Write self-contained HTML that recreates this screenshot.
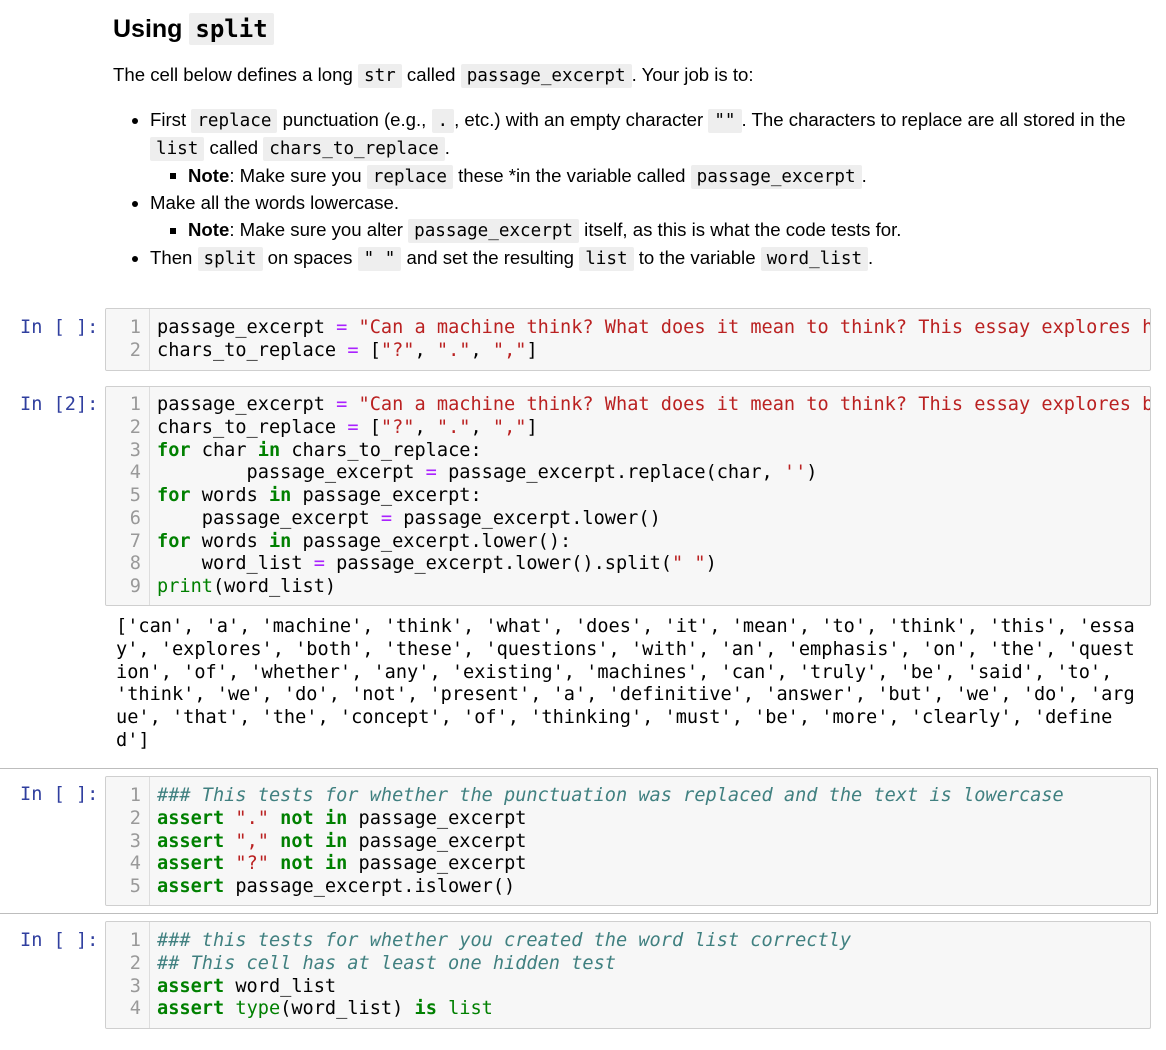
<!DOCTYPE html>
<html><head><meta charset="utf-8"><style>
body{margin:0;width:1166px;height:1050px;background:#fff;position:relative;overflow:hidden;font-family:"Liberation Sans",Arial,sans-serif;color:#000}
.t{position:absolute;font-size:18.6px;white-space:nowrap;line-height:24px}
code{font-family:"DejaVu Sans Mono",monospace;font-size:17.6px;background:#eee;padding:2px 6px;border-radius:2px}
.h{position:absolute;left:113px;top:12px;font-size:25px;font-weight:bold;line-height:34px}
.h code{font-size:24px;font-weight:bold;padding:2px 6px}
.dot{position:absolute;width:6px;height:6px;border-radius:50%;background:#000}
.sq{position:absolute;width:6px;height:6px;background:#000}
.p{position:absolute;left:20px;font-family:"DejaVu Sans Mono",monospace;font-size:18.6px;color:#303f9f;line-height:22.75px}
.box{position:absolute;left:105px;width:1044px;background:#f7f7f7;border:1px solid #cfcfcf;border-radius:2px;overflow:hidden}
.gut{position:absolute;left:0;top:0;bottom:0;width:43px;border-right:1px solid #ddd;background:#f7f7f7}
.ln{position:absolute;left:0;width:35px;text-align:right;font-family:"DejaVu Sans Mono",monospace;font-size:18.6px;color:#999;line-height:22.75px}
.cd{position:absolute;left:51px;font-family:"DejaVu Sans Mono",monospace;font-size:18.6px;line-height:22.75px;white-space:pre;color:#000}
.k{color:#008000;font-weight:bold}.s{color:#ba2121}.o{color:#aa22ff}.c{color:#408080;font-style:italic}.b{color:#008000}
.out{position:absolute;left:116px;top:616px;font-family:"DejaVu Sans Mono",monospace;font-size:18.6px;line-height:22.75px;white-space:pre}
</style></head><body>
<div class="h">Using <code>split</code></div>
<div class="t" style="left:113px;top:63px">The cell below defines a long <code>str</code> called <code>passage_excerpt</code>. Your job is to:</div>
<div class="dot" style="left:132px;top:118px"></div>
<div class="t" style="left:150px;top:108px">First <code>replace</code> punctuation (e.g., <code>.</code>, etc.) with an empty character <code>""</code>. The characters to replace are all stored in the</div>
<div class="t" style="left:150px;top:136px"><code>list</code> called <code>chars_to_replace</code>.</div>
<div class="sq" style="left:170px;top:173px"></div>
<div class="t" style="left:188px;top:164px"><b>Note</b>: Make sure you <code>replace</code> these *in the variable called <code>passage_excerpt</code>.</div>
<div class="dot" style="left:132px;top:201px"></div>
<div class="t" style="left:150px;top:191px">Make all the words lowercase.</div>
<div class="sq" style="left:170px;top:228px"></div>
<div class="t" style="left:188px;top:218px"><b>Note</b>: Make sure you alter <code>passage_excerpt</code> itself, as this is what the code tests for.</div>
<div class="dot" style="left:132px;top:256px"></div>
<div class="t" style="left:150px;top:246px">Then <code>split</code> on spaces <code>" "</code> and set the resulting <code>list</code> to the variable <code>word_list</code>.</div>

<div class="p" style="top:317px">In [ ]:</div>
<div class="box" style="top:308px;height:61px"><div class="gut"></div>
<div class="ln" style="top:8px">1<br>2</div>
<div class="cd" style="top:8px">passage_excerpt <span class="o">=</span> <span class="s">"Can a machine think? What does it mean to think? This essay explores how</span>
chars_to_replace <span class="o">=</span> [<span class="s">"?"</span>, <span class="s">"."</span>, <span class="s">","</span>]</div></div>

<div class="p" style="top:394px">In [2]:</div>
<div class="box" style="top:386px;height:218px"><div class="gut"></div>
<div class="ln" style="top:7px">1<br>2<br>3<br>4<br>5<br>6<br>7<br>8<br>9</div>
<div class="cd" style="top:7px">passage_excerpt <span class="o">=</span> <span class="s">"Can a machine think? What does it mean to think? This essay explores both</span>
chars_to_replace <span class="o">=</span> [<span class="s">"?"</span>, <span class="s">"."</span>, <span class="s">","</span>]
<span class="k">for</span> char <span class="k">in</span> chars_to_replace:
        passage_excerpt <span class="o">=</span> passage_excerpt.replace(char, <span class="s">''</span>)
<span class="k">for</span> words <span class="k">in</span> passage_excerpt:
    passage_excerpt <span class="o">=</span> passage_excerpt.lower()
<span class="k">for</span> words <span class="k">in</span> passage_excerpt.lower():
    word_list <span class="o">=</span> passage_excerpt.lower().split(<span class="s">" "</span>)
<span class="b">print</span>(word_list)</div></div>

<div class="out">['can', 'a', 'machine', 'think', 'what', 'does', 'it', 'mean', 'to', 'think', 'this', 'essa
y', 'explores', 'both', 'these', 'questions', 'with', 'an', 'emphasis', 'on', 'the', 'quest
ion', 'of', 'whether', 'any', 'existing', 'machines', 'can', 'truly', 'be', 'said', 'to',
'think', 'we', 'do', 'not', 'present', 'a', 'definitive', 'answer', 'but', 'we', 'do', 'arg
ue', 'that', 'the', 'concept', 'of', 'thinking', 'must', 'be', 'more', 'clearly', 'define
d']</div>

<div style="position:absolute;left:0;top:768px;width:1157px;height:144px;border:1px solid #bdbdbd;border-left:none"></div>
<div class="p" style="top:784px">In [ ]:</div>
<div class="box" style="top:776px;height:128px"><div class="gut"></div>
<div class="ln" style="top:8px">1<br>2<br>3<br>4<br>5</div>
<div class="cd" style="top:8px"><span class="c">### This tests for whether the punctuation was replaced and the text is lowercase</span>
<span class="k">assert</span> <span class="s">"."</span> <span class="k">not</span> <span class="k">in</span> passage_excerpt
<span class="k">assert</span> <span class="s">","</span> <span class="k">not</span> <span class="k">in</span> passage_excerpt
<span class="k">assert</span> <span class="s">"?"</span> <span class="k">not</span> <span class="k">in</span> passage_excerpt
<span class="k">assert</span> passage_excerpt.islower()</div></div>

<div class="p" style="top:930px">In [ ]:</div>
<div class="box" style="top:921px;height:106px"><div class="gut"></div>
<div class="ln" style="top:8px">1<br>2<br>3<br>4</div>
<div class="cd" style="top:8px"><span class="c">### this tests for whether you created the word list correctly</span>
<span class="c">## This cell has at least one hidden test</span>
<span class="k">assert</span> word_list
<span class="k">assert</span> <span class="b">type</span>(word_list) <span class="k">is</span> <span class="b">list</span></div></div>
</body></html>
